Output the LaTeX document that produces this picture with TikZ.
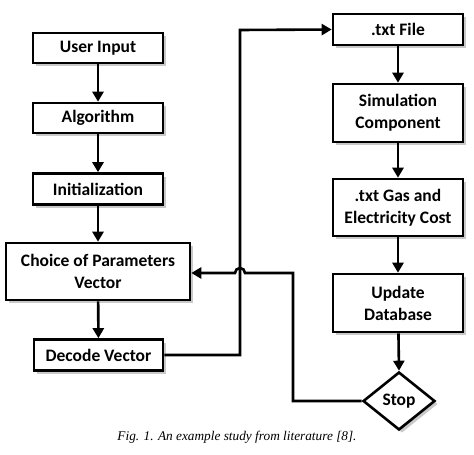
\documentclass[tikz,border=0pt]{standalone}
\usepackage{fontspec}
\setmainfont{Liberation Serif}
\newfontfamily\boxfont{Carlito}
\usetikzlibrary{arrows.meta,shapes.geometric,shadows,calc}
\begin{document}
\begin{tikzpicture}[x=1pt,y=-1pt,
  box/.style={draw,line width=2.6pt,fill=white,align=center,font=\boxfont\bfseries\fontsize{17.5}{22}\selectfont,
    inner sep=0pt,drop shadow={shadow xshift=3pt,shadow yshift=-3pt,fill=black!30,opacity=0.7}},
  conn/.style={line width=2.6pt},
  arr/.style={conn,-{Triangle[length=10pt,width=11pt]}}]
\useasboundingbox (0,0) rectangle (474,455);
\node[box,minimum width=130pt,minimum height=30pt] (ui) at (98,48) {User Input};
\node[box,minimum width=130pt,minimum height=30pt] (alg) at (98,118) {Algorithm};
\node[box,minimum width=130pt,minimum height=31pt] (ini) at (98,189) {Initialization};
\node[box,minimum width=184pt,minimum height=57pt] (cho) at (98,271.5) {Choice of Parameters\\Vector};
\node[box,minimum width=129pt,minimum height=31pt] (dec) at (98.5,355) {Decode Vector};
\node[box,minimum width=130pt,minimum height=31pt] (txt) at (398,29.5) {.txt File};
\node[box,minimum width=130pt,minimum height=58pt] (sim) at (398,113) {Simulation\\Component};
\node[box,minimum width=130pt,minimum height=57pt] (gas) at (398,207.5) {.txt Gas and\\Electricity Cost};
\node[box,diamond,aspect=1.2,minimum width=72pt,minimum height=58pt] (stop) at (399,401) {Stop};
\node[box,minimum width=130pt,minimum height=58pt] (upd) at (398,303) {Update\\Database};
\draw[arr] (ui) -- (alg);
\draw[arr] (alg) -- (ini);
\draw[arr] (ini) -- (cho);
\draw[arr] (cho) -- (dec);
\draw[arr] (txt) -- (sim);
\draw[arr] (sim) -- (gas);
\draw[arr] (gas) -- (upd);
\draw[arr] (upd) -- (stop.north);
\coordinate (c1) at (240,355);
\coordinate (c2) at (240,30);
\draw[arr] (dec.east) -- (c1) -- (c2) -- (txt.west);
\coordinate (s1) at (293,401);
\coordinate (s2) at (293,273);
\coordinate (h1) at (245,273);
\coordinate (h2) at (235,273);
\draw[arr] (stop.west) -- (s1) -- (s2) -- (h1) arc[start angle=0,end angle=-180,radius=5] -- (h2) -- (cho.east |- s2);
\node[font=\itshape\fontsize{13.3}{16}\selectfont] (cap) at (237,437) {Fig. 1. An example study from literature [8].};
\end{tikzpicture}
\end{document}
